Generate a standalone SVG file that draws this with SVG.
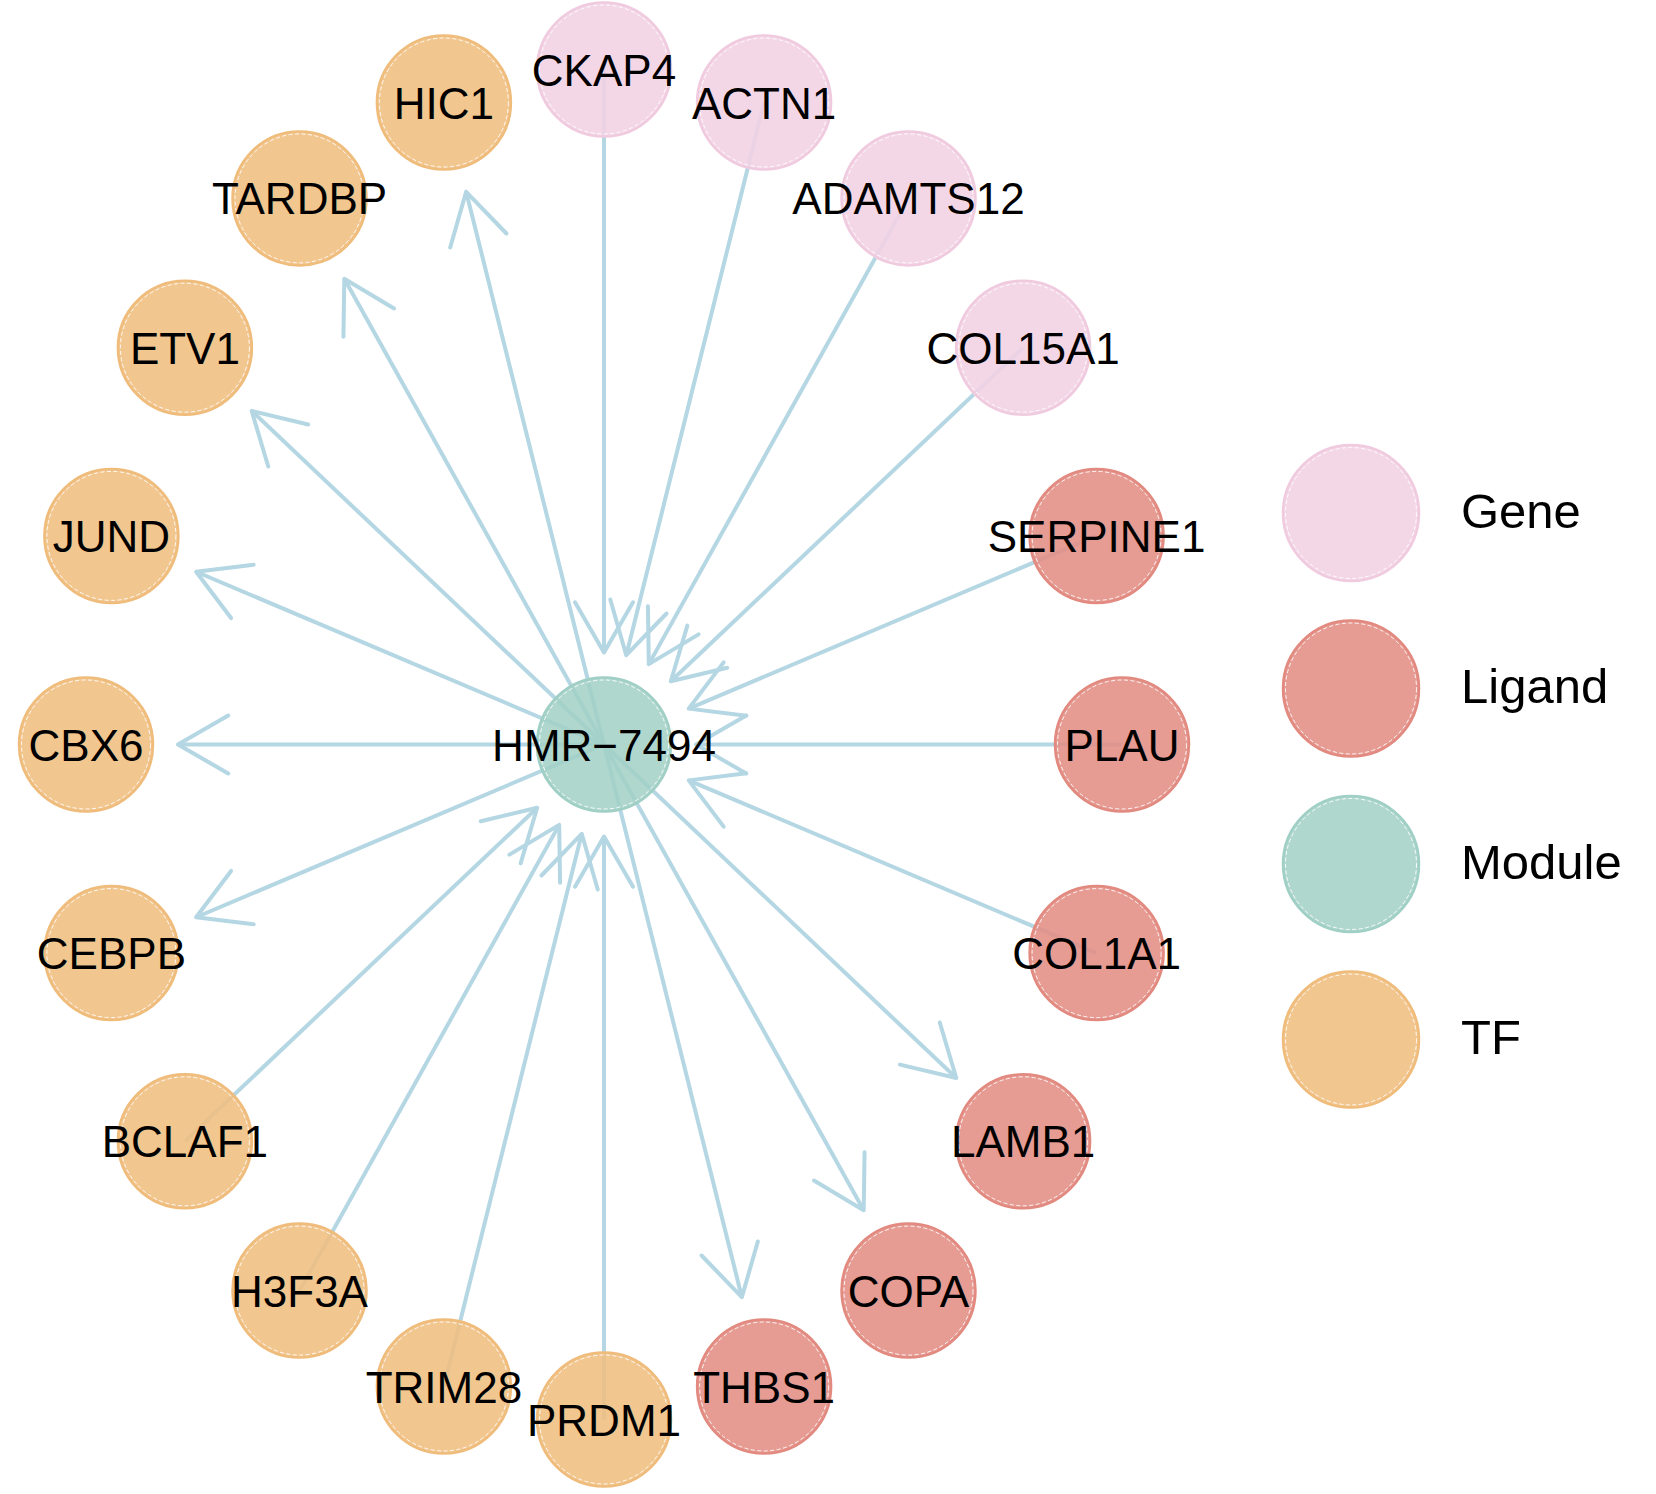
<svg xmlns="http://www.w3.org/2000/svg" width="1656" height="1494" viewBox="0 0 1656 1494">
<style>
.e{stroke:#B4D7E3;stroke-width:4;fill:none;stroke-linecap:butt}
.a{stroke:#B4D7E3;stroke-width:4;fill:none;stroke-linejoin:round;stroke-linecap:round}
.n{stroke-width:2.5}
.gene{fill:#F2D2E4;stroke:#F0CBDF;fill-opacity:0.88}
.lig{fill:#E38D84;stroke:#E28A80;fill-opacity:0.88}
.mod{fill:#A1D0C6;stroke:#A0CFC5;fill-opacity:0.85}
.tf{fill:#F0BE80;stroke:#EFBC7B;fill-opacity:0.88}
.d{fill:none;stroke:#FFFFFF;stroke-width:0.9;stroke-dasharray:4 2.5}
.t{font-family:"Liberation Sans",Arial,sans-serif;font-size:44px;fill:#000;text-anchor:middle}
.lt{font-family:"Liberation Sans",Arial,sans-serif;font-size:49px;fill:#000}
</style>
<rect width="1656" height="1494" fill="#FFFFFF"/>
<g id="edges">
<line class="e" x1="604" y1="69.5" x2="604" y2="652.5"/><polyline class="a" points="633,602.27 604,652.5 575,602.27"/>
<line class="e" x1="764.1" y1="102.5" x2="626.26" y2="655.23"/><polyline class="a" points="666.55,613.51 626.26,655.23 610.27,599.48"/>
<line class="e" x1="908.5" y1="198.4" x2="648.8" y2="664.15"/><polyline class="a" points="698.59,634.4 648.8,664.15 647.93,606.16"/>
<line class="e" x1="1023.1" y1="347.7" x2="670.81" y2="681.25"/><polyline class="a" points="727.22,667.78 670.81,681.25 687.35,625.66"/>
<line class="e" x1="1096.6" y1="535.9" x2="688.72" y2="708.63"/><polyline class="a" points="746.28,715.75 688.72,708.63 723.67,662.34"/>
<line class="e" x1="1122" y1="744.5" x2="696" y2="744.5"/><polyline class="a" points="746.23,773.5 696,744.5 746.23,715.5"/>
<line class="e" x1="1096.6" y1="953.1" x2="688.72" y2="780.37"/><polyline class="a" points="723.67,826.66 688.72,780.37 746.28,773.25"/>
<line class="e" x1="184.9" y1="1141.3" x2="537.19" y2="807.75"/><polyline class="a" points="480.78,821.23 537.19,807.75 520.65,863.34"/>
<line class="e" x1="299.5" y1="1290.6" x2="559.2" y2="824.85"/><polyline class="a" points="509.41,854.6 559.2,824.85 560.07,882.84"/>
<line class="e" x1="443.9" y1="1386.5" x2="581.74" y2="833.77"/><polyline class="a" points="541.45,875.49 581.74,833.77 597.73,889.52"/>
<line class="e" x1="604" y1="1419.5" x2="604" y2="836.5"/><polyline class="a" points="575,886.73 604,836.5 633,886.73"/>
<line class="e" x1="604" y1="744.5" x2="956.29" y2="1078.05"/><polyline class="a" points="939.75,1022.46 956.29,1078.05 899.88,1064.58"/>
<line class="e" x1="604" y1="744.5" x2="863.7" y2="1210.25"/><polyline class="a" points="864.57,1152.26 863.7,1210.25 813.91,1180.5"/>
<line class="e" x1="604" y1="744.5" x2="741.84" y2="1297.23"/><polyline class="a" points="757.83,1241.48 741.84,1297.23 701.55,1255.51"/>
<line class="e" x1="604" y1="744.5" x2="196.12" y2="917.23"/><polyline class="a" points="253.68,924.35 196.12,917.23 231.07,870.94"/>
<line class="e" x1="604" y1="744.5" x2="178" y2="744.5"/><polyline class="a" points="228.23,773.5 178,744.5 228.23,715.5"/>
<line class="e" x1="604" y1="744.5" x2="196.12" y2="571.77"/><polyline class="a" points="231.07,618.06 196.12,571.77 253.68,564.65"/>
<line class="e" x1="604" y1="744.5" x2="251.71" y2="410.95"/><polyline class="a" points="268.25,466.54 251.71,410.95 308.12,424.43"/>
<line class="e" x1="604" y1="744.5" x2="344.3" y2="278.75"/><polyline class="a" points="343.43,336.74 344.3,278.75 394.09,308.5"/>
<line class="e" x1="604" y1="744.5" x2="466.16" y2="191.77"/><polyline class="a" points="450.18,247.52 466.16,191.77 506.45,233.49"/>
</g>
<g id="n-HMR-7494"><circle class="n mod" cx="604" cy="744.5" r="67"/><circle class="d" cx="604" cy="744.5" r="64.5"/><text class="t" x="604" y="760.5">HMR−7494</text></g>
<g id="n-CKAP4"><circle class="n gene" cx="604" cy="69.5" r="67"/><circle class="d" cx="604" cy="69.5" r="64.5"/><text class="t" x="604" y="85.5">CKAP4</text></g>
<g id="n-ACTN1"><circle class="n gene" cx="764.1" cy="102.5" r="67"/><circle class="d" cx="764.1" cy="102.5" r="64.5"/><text class="t" x="764.1" y="118.5">ACTN1</text></g>
<g id="n-ADAMTS12"><circle class="n gene" cx="908.5" cy="198.4" r="67"/><circle class="d" cx="908.5" cy="198.4" r="64.5"/><text class="t" x="908.5" y="214.4">ADAMTS12</text></g>
<g id="n-COL15A1"><circle class="n gene" cx="1023.1" cy="347.7" r="67"/><circle class="d" cx="1023.1" cy="347.7" r="64.5"/><text class="t" x="1023.1" y="363.7">COL15A1</text></g>
<g id="n-SERPINE1"><circle class="n lig" cx="1096.6" cy="535.9" r="67"/><circle class="d" cx="1096.6" cy="535.9" r="64.5"/><text class="t" x="1096.6" y="551.9">SERPINE1</text></g>
<g id="n-PLAU"><circle class="n lig" cx="1122" cy="744.5" r="67"/><circle class="d" cx="1122" cy="744.5" r="64.5"/><text class="t" x="1122" y="760.5">PLAU</text></g>
<g id="n-COL1A1"><circle class="n lig" cx="1096.6" cy="953.1" r="67"/><circle class="d" cx="1096.6" cy="953.1" r="64.5"/><text class="t" x="1096.6" y="969.1">COL1A1</text></g>
<g id="n-LAMB1"><circle class="n lig" cx="1023.1" cy="1141.3" r="67"/><circle class="d" cx="1023.1" cy="1141.3" r="64.5"/><text class="t" x="1023.1" y="1157.3">LAMB1</text></g>
<g id="n-COPA"><circle class="n lig" cx="908.5" cy="1290.6" r="67"/><circle class="d" cx="908.5" cy="1290.6" r="64.5"/><text class="t" x="908.5" y="1306.6">COPA</text></g>
<g id="n-THBS1"><circle class="n lig" cx="764.1" cy="1386.5" r="67"/><circle class="d" cx="764.1" cy="1386.5" r="64.5"/><text class="t" x="764.1" y="1402.5">THBS1</text></g>
<g id="n-PRDM1"><circle class="n tf" cx="604" cy="1419.5" r="67"/><circle class="d" cx="604" cy="1419.5" r="64.5"/><text class="t" x="604" y="1435.5">PRDM1</text></g>
<g id="n-TRIM28"><circle class="n tf" cx="443.9" cy="1386.5" r="67"/><circle class="d" cx="443.9" cy="1386.5" r="64.5"/><text class="t" x="443.9" y="1402.5">TRIM28</text></g>
<g id="n-H3F3A"><circle class="n tf" cx="299.5" cy="1290.6" r="67"/><circle class="d" cx="299.5" cy="1290.6" r="64.5"/><text class="t" x="299.5" y="1306.6">H3F3A</text></g>
<g id="n-BCLAF1"><circle class="n tf" cx="184.9" cy="1141.3" r="67"/><circle class="d" cx="184.9" cy="1141.3" r="64.5"/><text class="t" x="184.9" y="1157.3">BCLAF1</text></g>
<g id="n-CEBPB"><circle class="n tf" cx="111.4" cy="953.1" r="67"/><circle class="d" cx="111.4" cy="953.1" r="64.5"/><text class="t" x="111.4" y="969.1">CEBPB</text></g>
<g id="n-CBX6"><circle class="n tf" cx="86" cy="744.5" r="67"/><circle class="d" cx="86" cy="744.5" r="64.5"/><text class="t" x="86" y="760.5">CBX6</text></g>
<g id="n-JUND"><circle class="n tf" cx="111.4" cy="535.9" r="67"/><circle class="d" cx="111.4" cy="535.9" r="64.5"/><text class="t" x="111.4" y="551.9">JUND</text></g>
<g id="n-ETV1"><circle class="n tf" cx="184.9" cy="347.7" r="67"/><circle class="d" cx="184.9" cy="347.7" r="64.5"/><text class="t" x="184.9" y="363.7">ETV1</text></g>
<g id="n-TARDBP"><circle class="n tf" cx="299.5" cy="198.4" r="67"/><circle class="d" cx="299.5" cy="198.4" r="64.5"/><text class="t" x="299.5" y="214.4">TARDBP</text></g>
<g id="n-HIC1"><circle class="n tf" cx="443.9" cy="102.5" r="67"/><circle class="d" cx="443.9" cy="102.5" r="64.5"/><text class="t" x="443.9" y="118.5">HIC1</text></g>
<g id="legend">
<g id="legend-gene"><circle class="n gene" cx="1351" cy="513" r="68"/><circle class="d" cx="1351" cy="513" r="65.5"/><text class="lt" x="1461" y="527.5">Gene</text></g>
<g id="legend-ligand"><circle class="n lig" cx="1351" cy="688.5" r="68"/><circle class="d" cx="1351" cy="688.5" r="65.5"/><text class="lt" x="1461" y="703">Ligand</text></g>
<g id="legend-module"><circle class="n mod" cx="1351" cy="864" r="68"/><circle class="d" cx="1351" cy="864" r="65.5"/><text class="lt" x="1461" y="878.5">Module</text></g>
<g id="legend-tf"><circle class="n tf" cx="1351" cy="1039.5" r="68"/><circle class="d" cx="1351" cy="1039.5" r="65.5"/><text class="lt" x="1461" y="1054">TF</text></g>
</g>
</svg>
